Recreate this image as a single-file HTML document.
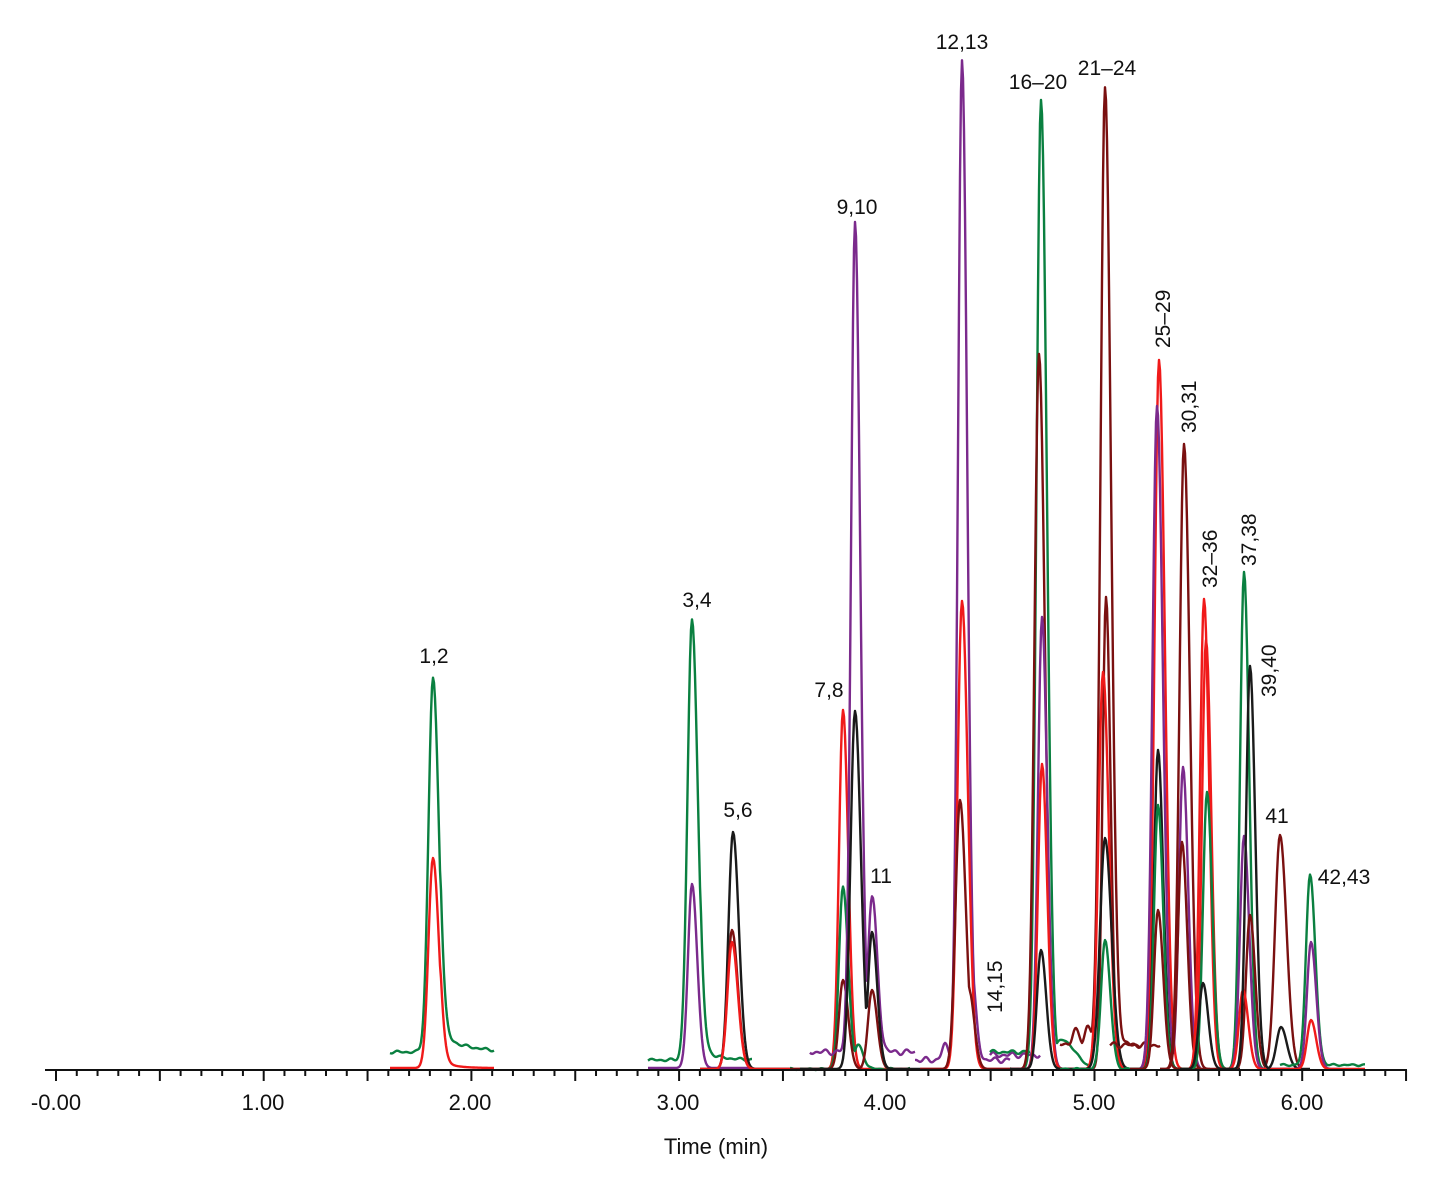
<!DOCTYPE html>
<html><head><meta charset="utf-8"><style>
body{margin:0;background:#fff;}
svg text{font-family:"Liberation Sans",sans-serif;fill:#111;}
</style></head><body>
<svg id="s" width="1442" height="1178" viewBox="0 0 1442 1178" xmlns="http://www.w3.org/2000/svg">
<g id="traces" fill="none" stroke-width="2.4" stroke-linejoin="round"></g>
<line x1="45" y1="1070" x2="1407" y2="1070" stroke="#111" stroke-width="2"/>
<g id="ticks" stroke="#111" stroke-width="2"></g>
<g font-size="22" text-anchor="middle">
<text x="56" y="1110">-0.00</text><text x="263" y="1110">1.00</text><text x="470" y="1110">2.00</text>
<text x="678" y="1110">3.00</text><text x="885" y="1110">4.00</text><text x="1094" y="1110">5.00</text><text x="1302" y="1110">6.00</text>
<text x="716" y="1154">Time (min)</text>
</g>
<g font-size="21" text-anchor="middle">
<text x="434" y="663">1,2</text><text x="697" y="607">3,4</text><text x="738" y="817">5,6</text>
<text x="829" y="697">7,8</text><text x="857" y="214">9,10</text><text x="881" y="883">11</text>
<text x="962" y="49">12,13</text><text x="1038" y="89">16–20</text><text x="1107" y="75">21–24</text>
<text x="1277" y="823">41</text><text x="1344" y="884">42,43</text>
</g>
<g font-size="21">
<text transform="translate(1002,1013) rotate(-90)">14,15</text>
<text transform="translate(1170,348) rotate(-90)">25–29</text>
<text transform="translate(1196,433) rotate(-90)">30,31</text>
<text transform="translate(1217,588) rotate(-90)">32–36</text>
<text transform="translate(1256,566) rotate(-90)">37,38</text>
<text transform="translate(1276,697) rotate(-90)">39,40</text>
</g>
</svg>
<script>
var G='#0a8040',R='#f01a1a',P='#7b2a8c',D='#7a1010',K='#1a1a1a';
var tk=document.getElementById('ticks'),h='';
for(var i=0;i<=65;i++){var x=56+i*20.77;var L=(i%5==0)?11:6;h+='<line x1="'+x+'" y1="1070" x2="'+x+'" y2="'+(1070+L)+'"/>';}
tk.innerHTML=h;
var segs=[
[G,390,494,1052,[[433,678,4.5]],1.5,[[440,17,25]]],
[R,390,494,1068,[[433,858,4.5]],0,[[440,8,12]]],
[G,648,752,1060,[[692,620,4.5]],1.5,[[700,12,15]]],
[P,648,752,1068,[[692,884,4]],0,[]],
[K,700,790,1069,[[733,832,4.5]],0,[]],
[D,700,790,1069,[[732,930,4.5]],0,[]],
[R,700,790,1069,[[732,942,4.5]],0,[]],
[R,790,910,1069,[[843,710,4]],0,[]],
[G,790,910,1069,[[843,887,4],[858,1045,4]],1,[]],
[D,790,910,1069,[[843,980,4],[872,990,4]],0,[]],
[P,810,915,1052,[[855,224,4],[872,896,4]],3,[]],
[K,800,920,1069,[[855,711,4.5],[872,932,4]],0,[]],
[P,915,1010,1060,[[962,60,4],[969,940,4],[945,1045,3]],3,[]],
[R,920,1010,1069,[[962,601,4.5]],0,[]],
[D,920,1010,1069,[[960,800,4.5],[969,990,4]],0,[]],
[P,990,1040,1055,[],3,[]],
[G,990,1030,1052,[],2,[]],
[G,1010,1090,1069,[[1041,100,4.5],[1062,1040,10]],1,[]],
[D,1010,1090,1069,[[1039,354,4.5]],0,[]],
[P,1010,1090,1069,[[1042,617,4]],0,[]],
[R,1010,1090,1069,[[1042,764,4]],0,[]],
[K,1010,1090,1069,[[1041,950,4]],0,[]],
[D,1060,1140,1045,[[1105,87,4.5],[1088,1025,3],[1075,1030,3]],3,[]],
[D,1085,1130,1069,[[1106,597,3.5]],0,[]],
[R,1060,1140,1069,[[1103,672,4.5]],0,[]],
[K,1060,1140,1069,[[1105,838,5]],0,[]],
[G,1060,1140,1069,[[1105,940,4]],1,[]],
[D,1110,1160,1045,[],3,[]],
[R,1130,1200,1069,[[1159,360,4.5]],0,[]],
[P,1130,1200,1069,[[1157,406,4.5],[1183,767,4]],0,[]],
[K,1130,1200,1069,[[1158,750,4]],0,[]],
[G,1130,1200,1069,[[1158,805,4]],0,[]],
[D,1130,1200,1069,[[1158,910,4]],0,[]],
[D,1160,1230,1069,[[1184,444,4.5]],0,[]],
[D,1160,1210,1069,[[1182,842,4]],0,[]],
[R,1180,1240,1069,[[1204,599,4]],0,[]],
[R,1185,1240,1069,[[1206,640,4]],0,[]],
[G,1180,1240,1069,[[1207,792,4]],0,[]],
[K,1180,1240,1069,[[1203,983,4]],0,[]],
[G,1220,1290,1069,[[1244,572,4]],0,[]],
[P,1220,1290,1069,[[1244,836,4]],0,[]],
[D,1220,1300,1069,[[1250,915,4],[1280,835,5]],0,[]],
[R,1220,1290,1069,[[1243,990,4]],0,[]],
[K,1220,1310,1069,[[1250,666,4],[1281,1027,4.5]],0,[]],
[G,1280,1365,1065,[[1310,874,4]],1,[]],
[P,1280,1340,1069,[[1311,942,4]],0,[]],
[R,1280,1365,1069,[[1311,1020,4]],0,[]]
];
var out='';
segs.forEach(function(s){
  var d='';var seed=s[1]*7.3;
  for(var x=s[1];x<=s[2];x+=1){
    var y=s[3];
    if(s[5])y+=s[5]*Math.sin(x*0.5+seed)*Math.sin(x*0.13+seed);
    var m=0;
    s[4].forEach(function(p){
      var a=s[3]-p[1];
      var sg=x>p[0]?p[2]*1.3:p[2];
      m=Math.max(m,a*Math.exp(-Math.pow((x-p[0])/sg,2)/2));
    });
    y-=m;
    s[6].forEach(function(t){ if(x>t[0]) y-=t[1]*Math.exp(-(x-t[0])/t[2]); });
    d+=(d?'L':'M')+x+' '+y.toFixed(1);
  }
  out+='<path d="'+d+'" stroke="'+s[0]+'"/>';
});
document.getElementById('traces').innerHTML=out;
</script>
</body></html>
